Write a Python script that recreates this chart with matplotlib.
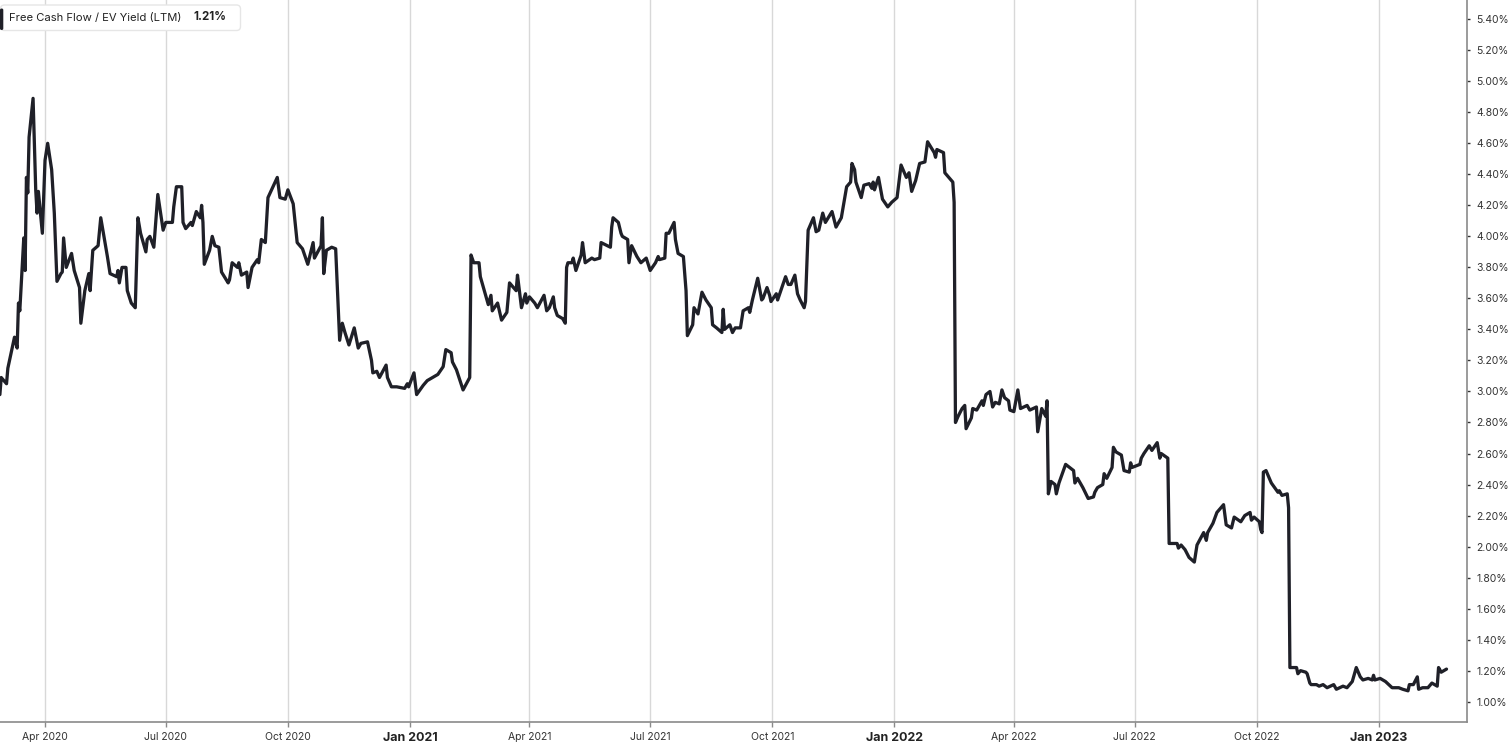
import matplotlib
matplotlib.use("Agg")
import matplotlib.pyplot as plt
from matplotlib.patches import FancyBboxPatch
from matplotlib.transforms import IdentityTransform
from matplotlib.ticker import FuncFormatter
import pandas as pd
import numpy as np

plt.rcParams['font.family'] = ['Inter', 'DejaVu Sans']

series_name = "Free Cash Flow / EV Yield (LTM)"
last_value_label = "1.21%"

points_2020 = [
    ("2020-02-27", 2.98), ("2020-02-28", 3.09), ("2020-03-03", 3.05), ("2020-03-04", 3.15),
    ("2020-03-09", 3.35), ("2020-03-11", 3.28), ("2020-03-12", 3.57), ("2020-03-13", 3.52),
    ("2020-03-16", 3.99), ("2020-03-17", 3.78), ("2020-03-18", 4.38), ("2020-03-19", 4.28),
    ("2020-03-20", 4.64), ("2020-03-23", 4.89), ("2020-03-25", 4.30), ("2020-03-26", 4.15),
    ("2020-03-27", 4.29), ("2020-03-30", 4.02), ("2020-04-01", 4.49), ("2020-04-03", 4.60),
    ("2020-04-06", 4.43), ("2020-04-08", 4.15), ("2020-04-10", 3.71), ("2020-04-13", 3.76),
    ("2020-04-14", 3.77), ("2020-04-15", 3.99), ("2020-04-17", 3.80), ("2020-04-21", 3.89),
    ("2020-04-23", 3.78), ("2020-04-27", 3.67), ("2020-04-28", 3.44), ("2020-05-01", 3.65),
    ("2020-05-04", 3.76), ("2020-05-05", 3.65), ("2020-05-07", 3.91), ("2020-05-11", 3.94),
    ("2020-05-13", 4.12), ("2020-05-18", 3.87), ("2020-05-20", 3.76), ("2020-05-25", 3.74),
    ("2020-05-26", 3.78), ("2020-05-27", 3.70), ("2020-05-29", 3.80), ("2020-06-01", 3.80),
    ("2020-06-02", 3.65), ("2020-06-05", 3.57), ("2020-06-08", 3.54), ("2020-06-10", 4.12),
    ("2020-06-12", 4.02), ("2020-06-16", 3.90), ("2020-06-17", 3.98), ("2020-06-19", 4.00),
    ("2020-06-22", 3.93), ("2020-06-25", 4.27), ("2020-06-29", 4.04), ("2020-07-01", 4.09),
    ("2020-07-06", 4.09), ("2020-07-07", 4.19), ("2020-07-09", 4.32), ("2020-07-13", 4.32),
    ("2020-07-14", 4.09), ("2020-07-16", 4.05), ("2020-07-20", 4.09), ("2020-07-21", 4.07),
    ("2020-07-24", 4.16), ("2020-07-27", 4.12), ("2020-07-28", 4.20), ("2020-07-29", 4.09),
    ("2020-07-30", 3.82), ("2020-08-03", 3.91), ("2020-08-05", 4.00), ("2020-08-07", 3.94),
    ("2020-08-10", 3.93), ("2020-08-12", 3.77), ("2020-08-17", 3.70), ("2020-08-18", 3.72),
    ("2020-08-20", 3.83), ("2020-08-24", 3.80), ("2020-08-25", 3.83), ("2020-08-27", 3.75),
    ("2020-08-31", 3.77), ("2020-09-01", 3.67), ("2020-09-04", 3.80), ("2020-09-08", 3.85),
    ("2020-09-09", 3.83), ("2020-09-11", 3.98), ("2020-09-14", 3.96), ("2020-09-16", 4.25),
    ("2020-09-23", 4.38), ("2020-09-25", 4.25), ("2020-09-29", 4.24), ("2020-10-01", 4.30),
    ("2020-10-05", 4.21), ("2020-10-08", 3.96), ("2020-10-12", 3.92), ("2020-10-16", 3.82),
    ("2020-10-20", 3.96), ("2020-10-21", 3.86), ("2020-10-26", 3.94), ("2020-10-27", 4.12),
    ("2020-10-28", 3.76), ("2020-10-30", 3.91), ("2020-11-03", 3.93), ("2020-11-06", 3.92),
    ("2020-11-09", 3.33), ("2020-11-11", 3.44), ("2020-11-13", 3.38), ("2020-11-16", 3.30),
    ("2020-11-20", 3.41), ("2020-11-23", 3.28), ("2020-11-25", 3.31), ("2020-11-30", 3.32),
    ("2020-12-03", 3.20), ("2020-12-04", 3.12), ("2020-12-07", 3.13), ("2020-12-09", 3.09),
    ("2020-12-14", 3.17), ("2020-12-15", 3.09), ("2020-12-18", 3.03), ("2020-12-22", 3.03),
    ("2020-12-28", 3.02), ("2020-12-30", 3.05), ("2020-12-31", 3.03),
]

points_2021 = [
    ("2021-01-04", 3.12), ("2021-01-06", 2.98), ("2021-01-11", 3.04), ("2021-01-14", 3.07),
    ("2021-01-22", 3.11), ("2021-01-26", 3.16), ("2021-01-28", 3.27), ("2021-02-01", 3.25),
    ("2021-02-02", 3.19), ("2021-02-05", 3.14), ("2021-02-10", 3.01), ("2021-02-15", 3.09),
    ("2021-02-16", 3.88), ("2021-02-18", 3.83), ("2021-02-22", 3.83), ("2021-02-23", 3.74),
    ("2021-03-01", 3.56), ("2021-03-03", 3.62), ("2021-03-04", 3.52), ("2021-03-08", 3.57),
    ("2021-03-11", 3.46), ("2021-03-15", 3.51), ("2021-03-17", 3.70), ("2021-03-22", 3.65),
    ("2021-03-23", 3.75), ("2021-03-26", 3.54), ("2021-03-29", 3.63), ("2021-03-30", 3.57),
    ("2021-04-01", 3.61), ("2021-04-05", 3.57), ("2021-04-07", 3.54), ("2021-04-12", 3.62),
    ("2021-04-14", 3.52), ("2021-04-16", 3.54), ("2021-04-19", 3.61), ("2021-04-20", 3.54),
    ("2021-04-22", 3.49), ("2021-04-26", 3.47), ("2021-04-28", 3.44), ("2021-04-29", 3.80),
    ("2021-04-30", 3.83), ("2021-05-03", 3.83), ("2021-05-04", 3.86), ("2021-05-06", 3.78),
    ("2021-05-10", 3.88), ("2021-05-11", 3.96), ("2021-05-13", 3.83), ("2021-05-18", 3.86),
    ("2021-05-20", 3.85), ("2021-05-24", 3.86), ("2021-05-25", 3.96), ("2021-06-01", 3.93),
    ("2021-06-02", 4.06), ("2021-06-03", 4.12), ("2021-06-07", 4.09), ("2021-06-09", 4.02),
    ("2021-06-10", 4.00), ("2021-06-14", 3.98), ("2021-06-15", 3.83), ("2021-06-17", 3.94),
    ("2021-06-21", 3.87), ("2021-06-24", 3.83), ("2021-06-28", 3.86), ("2021-07-01", 3.78),
    ("2021-07-05", 3.83), ("2021-07-07", 3.87), ("2021-07-08", 3.85), ("2021-07-12", 3.86),
    ("2021-07-13", 4.02), ("2021-07-15", 4.02), ("2021-07-19", 4.09), ("2021-07-20", 3.98),
    ("2021-07-22", 3.89), ("2021-07-26", 3.87), ("2021-07-28", 3.65), ("2021-07-29", 3.36),
    ("2021-08-02", 3.43), ("2021-08-03", 3.54), ("2021-08-06", 3.50), ("2021-08-09", 3.64),
    ("2021-08-12", 3.59), ("2021-08-16", 3.54), ("2021-08-17", 3.43), ("2021-08-20", 3.41),
    ("2021-08-24", 3.38), ("2021-08-25", 3.53), ("2021-08-26", 3.40), ("2021-08-30", 3.43),
    ("2021-09-01", 3.38), ("2021-09-03", 3.41), ("2021-09-07", 3.41), ("2021-09-09", 3.52),
    ("2021-09-13", 3.54), ("2021-09-14", 3.51), ("2021-09-16", 3.59), ("2021-09-20", 3.73),
    ("2021-09-23", 3.59), ("2021-09-24", 3.60), ("2021-09-27", 3.67), ("2021-09-29", 3.62),
    ("2021-09-30", 3.58), ("2021-10-04", 3.63), ("2021-10-05", 3.59), ("2021-10-07", 3.64),
    ("2021-10-11", 3.74), ("2021-10-13", 3.69), ("2021-10-15", 3.69), ("2021-10-18", 3.75),
    ("2021-10-20", 3.63), ("2021-10-22", 3.59), ("2021-10-25", 3.54), ("2021-10-26", 3.58),
    ("2021-10-28", 4.04), ("2021-11-01", 4.12), ("2021-11-03", 4.03), ("2021-11-05", 4.04),
    ("2021-11-08", 4.15), ("2021-11-10", 4.09), ("2021-11-15", 4.16), ("2021-11-18", 4.06),
    ("2021-11-22", 4.12), ("2021-11-23", 4.17), ("2021-11-26", 4.32), ("2021-11-29", 4.35),
    ("2021-11-30", 4.47), ("2021-12-02", 4.43), ("2021-12-03", 4.35), ("2021-12-07", 4.25),
    ("2021-12-09", 4.33), ("2021-12-13", 4.34), ("2021-12-15", 4.31), ("2021-12-16", 4.35),
    ("2021-12-17", 4.30), ("2021-12-20", 4.38), ("2021-12-23", 4.24), ("2021-12-27", 4.19),
    ("2021-12-30", 4.22),
]

points_2022 = [
    ("2022-01-03", 4.25), ("2022-01-06", 4.46), ("2022-01-10", 4.38), ("2022-01-12", 4.41),
    ("2022-01-14", 4.29), ("2022-01-17", 4.36), ("2022-01-20", 4.47), ("2022-01-24", 4.48),
    ("2022-01-26", 4.61), ("2022-01-31", 4.54), ("2022-02-01", 4.51), ("2022-02-02", 4.56),
    ("2022-02-07", 4.54), ("2022-02-08", 4.41), ("2022-02-11", 4.38), ("2022-02-14", 4.35),
    ("2022-02-15", 4.22), ("2022-02-16", 2.80), ("2022-02-18", 2.84), ("2022-02-21", 2.89),
    ("2022-02-23", 2.91), ("2022-02-24", 2.76), ("2022-02-28", 2.83), ("2022-03-01", 2.89),
    ("2022-03-04", 2.88), ("2022-03-08", 2.94), ("2022-03-09", 2.91), ("2022-03-11", 2.98),
    ("2022-03-14", 3.00), ("2022-03-16", 2.90), ("2022-03-18", 2.93), ("2022-03-21", 2.92),
    ("2022-03-23", 3.01), ("2022-03-25", 2.96), ("2022-03-28", 2.94), ("2022-03-29", 2.88),
    ("2022-04-01", 2.87), ("2022-04-04", 3.01), ("2022-04-06", 2.89), ("2022-04-11", 2.91),
    ("2022-04-13", 2.88), ("2022-04-18", 2.90), ("2022-04-19", 2.74), ("2022-04-22", 2.89),
    ("2022-04-25", 2.84), ("2022-04-26", 2.94), ("2022-04-27", 2.34), ("2022-04-29", 2.42),
    ("2022-05-02", 2.40), ("2022-05-03", 2.34), ("2022-05-05", 2.41), ("2022-05-10", 2.53),
    ("2022-05-13", 2.51), ("2022-05-16", 2.49), ("2022-05-17", 2.41), ("2022-05-19", 2.44),
    ("2022-05-23", 2.38), ("2022-05-27", 2.31), ("2022-05-31", 2.32), ("2022-06-01", 2.35),
    ("2022-06-03", 2.38), ("2022-06-07", 2.40), ("2022-06-08", 2.47), ("2022-06-10", 2.44),
    ("2022-06-14", 2.51), ("2022-06-15", 2.64), ("2022-06-17", 2.61), ("2022-06-21", 2.59),
    ("2022-06-23", 2.49), ("2022-06-27", 2.48), ("2022-06-28", 2.54), ("2022-06-29", 2.51),
    ("2022-07-05", 2.53), ("2022-07-06", 2.57), ("2022-07-08", 2.60), ("2022-07-12", 2.65),
    ("2022-07-14", 2.62), ("2022-07-18", 2.67), ("2022-07-20", 2.57), ("2022-07-21", 2.60),
    ("2022-07-26", 2.57), ("2022-07-27", 2.02), ("2022-08-02", 2.02), ("2022-08-03", 1.99),
    ("2022-08-05", 2.01), ("2022-08-08", 1.98), ("2022-08-11", 1.93), ("2022-08-15", 1.90),
    ("2022-08-17", 2.01), ("2022-08-22", 2.09), ("2022-08-24", 2.04), ("2022-08-25", 2.09),
    ("2022-08-29", 2.15), ("2022-09-01", 2.22), ("2022-09-06", 2.27), ("2022-09-08", 2.14),
    ("2022-09-12", 2.12), ("2022-09-14", 2.19), ("2022-09-19", 2.16), ("2022-09-22", 2.20),
    ("2022-09-26", 2.22), ("2022-09-27", 2.17), ("2022-09-29", 2.19), ("2022-10-03", 2.16),
    ("2022-10-04", 2.11), ("2022-10-05", 2.09), ("2022-10-06", 2.48), ("2022-10-08", 2.49),
    ("2022-10-12", 2.41), ("2022-10-17", 2.35), ("2022-10-18", 2.36), ("2022-10-20", 2.33),
    ("2022-10-24", 2.34), ("2022-10-25", 2.25), ("2022-10-26", 1.22), ("2022-10-28", 1.22),
    ("2022-10-31", 1.22), ("2022-11-01", 1.18), ("2022-11-03", 1.20), ("2022-11-07", 1.19),
    ("2022-11-08", 1.18), ("2022-11-10", 1.12), ("2022-11-11", 1.11), ("2022-11-15", 1.11),
    ("2022-11-17", 1.10), ("2022-11-20", 1.11), ("2022-11-23", 1.09), ("2022-11-28", 1.11),
    ("2022-11-30", 1.08), ("2022-12-05", 1.10), ("2022-12-08", 1.09), ("2022-12-11", 1.12),
    ("2022-12-12", 1.13), ("2022-12-15", 1.22), ("2022-12-18", 1.16), ("2022-12-20", 1.14),
    ("2022-12-24", 1.15), ("2022-12-27", 1.14), ("2022-12-28", 1.17), ("2022-12-29", 1.14),
]

points_2023 = [
    ("2023-01-02", 1.15), ("2023-01-06", 1.13), ("2023-01-11", 1.09), ("2023-01-16", 1.09),
    ("2023-01-19", 1.08), ("2023-01-23", 1.07), ("2023-01-24", 1.11), ("2023-01-27", 1.11),
    ("2023-01-30", 1.16), ("2023-01-31", 1.08), ("2023-02-03", 1.09), ("2023-02-07", 1.09),
    ("2023-02-10", 1.12), ("2023-02-14", 1.10), ("2023-02-15", 1.22), ("2023-02-17", 1.19),
    ("2023-02-21", 1.21),
]

y_ticks = [1.0, 1.2, 1.4, 1.6, 1.8, 2.0, 2.2, 2.4, 2.6, 2.8, 3.0, 3.2, 3.4, 3.6, 3.8,
           4.0, 4.2, 4.4, 4.6, 4.8, 5.0, 5.2, 5.4]
x_tick_dates = ["2020-04-01", "2020-07-01", "2020-10-01", "2021-01-01", "2021-04-01",
                "2021-07-01", "2021-10-01", "2022-01-01", "2022-04-01", "2022-07-01",
                "2022-10-01", "2023-01-01"]

all_points = points_2020 + points_2021 + points_2022 + points_2023
dates = pd.to_datetime([d for d, _ in all_points])
values = np.array([v for _, v in all_points])

W, H = 1508, 750
fig = plt.figure(figsize=(W / 100, H / 100), dpi=100)
ax = fig.add_axes([0, 27.7 / H, 1466.7 / W, 1 - 27.7 / H])

ax.plot(dates, values, color='#1f2028', lw=2.35, solid_joinstyle='round',
        solid_capstyle='round', zorder=3)

ax.set_xlim(pd.Timestamp("2020-02-27 02:00"), pd.Timestamp("2023-03-08 05:00"))
ax.set_ylim(0.867, 5.524)

# y axis on the right
ax.yaxis.tick_right()
ax.set_yticks(y_ticks)
ax.yaxis.set_major_formatter(FuncFormatter(lambda v, p: f"{v:.2f}%"))
ax.tick_params(axis='y', which='major', length=2.5, width=1.0, color='#333333',
               labelsize=7.5, labelcolor='#333333', pad=4.5)

# x axis
xt = pd.to_datetime(x_tick_dates)
ax.set_xticks(xt)
ax.set_xticklabels([t.strftime('%b %Y') for t in xt])
ax.tick_params(axis='x', which='major', length=3.5, width=1.0, color='#8a8a8a',
               labelsize=7.5, labelcolor='#333333', pad=3.5)
for lbl, t in zip(ax.get_xticklabels(), xt):
    if t.month == 1:
        lbl.set_fontweight('bold')
        lbl.set_fontsize(9)
        lbl.set_color('#222222')

ax.grid(axis='x', color='#d8d8d8', lw=1.0, zorder=0)
ax.grid(axis='y', visible=False)

for s in ['left', 'top']:
    ax.spines[s].set_visible(False)
for s in ['right', 'bottom']:
    ax.spines[s].set_color('#8a8a8a')
    ax.spines[s].set_linewidth(1.2)

# legend badge (pixel coordinates from the top-left)
ident = IdentityTransform()
box = FancyBboxPatch((0.5, H - 30.5), 240, 25.5,
                     boxstyle="round,pad=0,rounding_size=4",
                     transform=ident, facecolor='white', edgecolor='#e6e6e6',
                     lw=1.0, zorder=5)
fig.patches.append(box)
bar = FancyBboxPatch((0, H - 30), 3.3, 21.5,
                     boxstyle="round,pad=0,rounding_size=1.5",
                     transform=ident, facecolor='#1f2028', edgecolor='none', zorder=6)
fig.patches.append(bar)
fig.text(9, H - 17.5, series_name, transform=ident, fontsize=8.1, color='#222222',
         va='center', ha='left', zorder=7)
fig.text(193, H - 17.5, last_value_label, transform=ident, fontsize=8.3,
         fontweight='bold', color='#222222', va='center', ha='left', zorder=7)

fig.savefig("out.png", dpi=100)
